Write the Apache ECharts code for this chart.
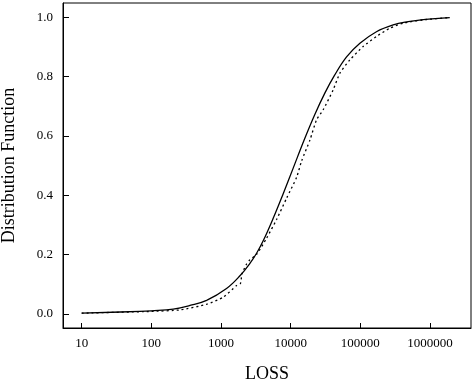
<!DOCTYPE html>
<html>
<head>
<meta charset="utf-8">
<script src="https://cdn.jsdelivr.net/npm/echarts@6/dist/echarts.min.js"></script>
<style>html,body{margin:0;padding:0;background:#fff}#c{width:474px;height:382px}</style>
</head>
<body>
<div id="c"></div>
<script>
// Fitted distribution (solid)
const fitLoss = [10, 68, 100, 206, 358, 621, 1200, 1870, 2600, 3240, 4030, 5610, 7660, 10900, 15600, 22200, 30900, 42100, 63400, 98500, 170000, 296000, 486000, 796000, 1920000];
const fitF    = [0.002, 0.008, 0.010, 0.016, 0.028, 0.045, 0.085, 0.128, 0.170, 0.204, 0.246, 0.322, 0.400, 0.492, 0.586, 0.672, 0.744, 0.802, 0.866, 0.912, 0.951, 0.974, 0.985, 0.992, 0.999];
// Empirical distribution (dotted)
const empLoss = [10, 100, 257, 621, 1076, 1675, 1900, 2000, 2330, 2600, 3240, 4510, 6280, 8740, 12160, 14330, 18900, 23500, 29300, 40700, 50800, 70600, 109600, 170000, 265000, 411000, 796000, 1920000];
const empF    = [0.002, 0.008, 0.013, 0.032, 0.056, 0.095, 0.102, 0.135, 0.168, 0.182, 0.200, 0.255, 0.318, 0.390, 0.460, 0.515, 0.586, 0.654, 0.688, 0.755, 0.811, 0.856, 0.901, 0.935, 0.963, 0.980, 0.991, 0.999];
const xTickExps = [1, 2, 3, 4, 5, 6];
const yTicks = [0, 0.2, 0.4, 0.6, 0.8, 1.0];

const pair = (xs, ys) => xs.map((x, i) => [Math.log10(x), ys[i]]);
const font = '"Liberation Serif", "Times New Roman", serif';

const chart = echarts.init(document.getElementById('c'), null, {renderer: 'canvas'});
chart.setOption({
  animation: false,
  backgroundColor: '#fff',
  grid: {left: 63, right: 3, top: 3, bottom: 54, containLabel: false, outerBoundsMode: 'none',
         show: true, borderColor: '#000', borderWidth: 1},
  xAxis: {
    type: 'value', min: 0.732, max: 6.588,
    name: 'LOSS', nameLocation: 'middle', nameGap: 37,
    nameTextStyle: {fontFamily: font, fontSize: 18, color: '#000'},
    axisLine: {show: true, onZero: false, lineStyle: {color: '#000', width: 1}},
    axisTick: {show: true, inside: true, length: 5, customValues: xTickExps, lineStyle: {color: '#000'}},
    axisLabel: {customValues: xTickExps, formatter: v => String(Math.round(Math.pow(10, v))), fontFamily: font, fontSize: 13, color: '#000', margin: 9},
    splitLine: {show: false}
  },
  yAxis: {
    type: 'value', min: -0.048, max: 1.048,
    name: 'Distribution Function', nameLocation: 'middle', nameGap: 45,
    nameTextStyle: {fontFamily: font, fontSize: 18, color: '#000'},
    axisLine: {show: true, onZero: false, lineStyle: {color: '#000', width: 1}},
    axisTick: {show: true, inside: true, length: 6, customValues: yTicks, lineStyle: {color: '#000'}},
    axisLabel: {customValues: yTicks, formatter: v => v.toFixed(1), fontFamily: font, fontSize: 13, color: '#000', margin: 10},
    splitLine: {show: false}
  },
  series: [
    {type: 'line', data: pair(fitLoss, fitF), smooth: 0.4, showSymbol: false, symbol: 'none',
     lineStyle: {color: '#000', width: 1.3}},
    {type: 'line', data: pair(empLoss, empF), smooth: 0.2, showSymbol: false, symbol: 'none',
     lineStyle: {color: '#000', width: 1.3, type: [2, 3]}}
  ]
});
</script>
</body>
</html>
